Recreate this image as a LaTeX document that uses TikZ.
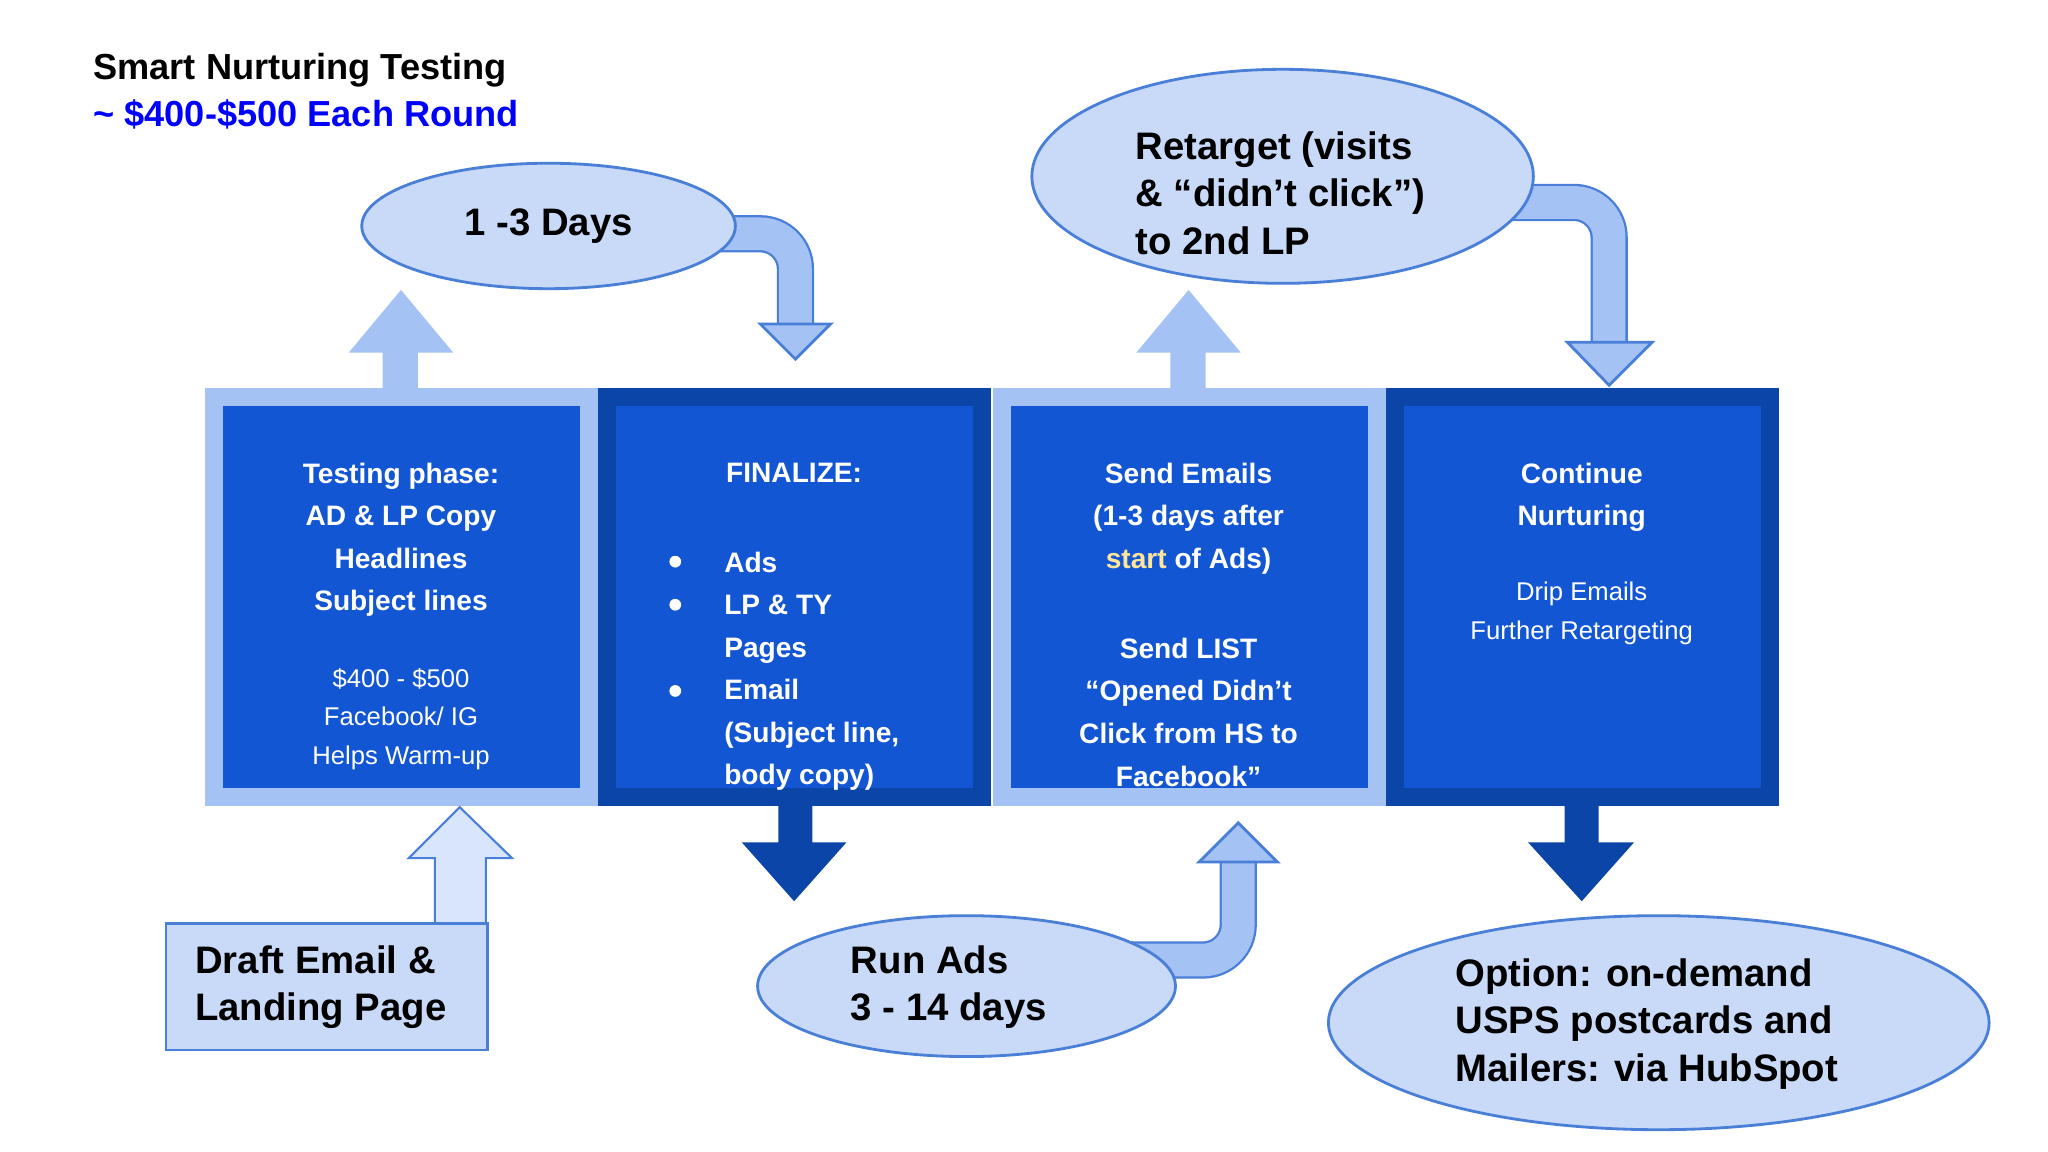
\documentclass[tikz,border=0pt]{standalone}
\usepackage{fontspec}
\setmainfont{Liberation Sans}
\usetikzlibrary{positioning,shapes.geometric}
\definecolor{lightfr}{HTML}{A4C2F4}
\definecolor{darkfr}{HTML}{0B45A8}
\definecolor{inner}{HTML}{1256D4}
\definecolor{pale}{HTML}{C9DAF8}
\definecolor{edge}{HTML}{4A7FD8}
\definecolor{hilite}{HTML}{FFE599}
\tikzset{
  x=0.013061cm, y=-0.013061cm,
  bold/.style={text=white, align=center, font=\fontsize{8.0}{12.1}\selectfont\bfseries, anchor=north},
  plain/.style={text=white, align=center, font=\fontsize{7.3}{11.0}\selectfont, anchor=north},
  bubble/.style={ellipse, draw=edge, fill=pale, line width=0.8pt, inner sep=0pt},
  btext/.style={align=left, font=\fontsize{10.9}{13.4}\selectfont\bfseries},
  band/.style={line width=9.3pt, draw=lightfr, rounded corners=10pt},
  bandedge/.style={line width=10.6pt, draw=edge, rounded corners=10pt}
}
\newcommand{\phase}[4]{% x, frame colour, name
  \fill[#2] (#1,297) rectangle ++(301,320);
  \fill[inner] (#1+14,311) rectangle ++(273,292);
  \coordinate (#3) at (#1+150,297);
  \coordinate (#4) at (#1+150,617);
}
\begin{document}
\begin{tikzpicture}
\useasboundingbox (0,0) rectangle (1568,882);
\fill[white] (0,0) rectangle (1568,882);

% title
\node[anchor=north west, font=\fontsize{10.3}{13.6}\selectfont\bfseries, align=left] (title) at (62,31)
  {Smart Nurturing Testing\\ \textcolor{blue}{\textasciitilde{} \$400-\$500 Each Round}};

% phase blocks
\phase{157}{lightfr}{p1top}{p1bot}
\phase{458}{darkfr}{p2top}{p2bot}
\phase{760}{lightfr}{p3top}{p3bot}
\phase{1061}{darkfr}{p4top}{p4bot}

% block texts
\node[bold] (t1) at (307,345) {Testing phase:\\AD \& LP Copy\\Headlines\\Subject lines};
\node[plain] (t1b) at (307,502) {\$400 - \$500\\Facebook/ IG\\Helps Warm-up};
\node[bold] (t2) at (608,345) {FINALIZE:};
\node[bold, anchor=north west, align=left] (t2b) at (545,413) {Ads\\LP \& TY\\Pages\\Email\\(Subject line,\\body copy)};
\foreach \yy in {430,463,529} \fill[white] (517,\yy) circle (4.5);
\node[bold] (t3) at (910,345) {Send Emails\\(1-3 days after\\\textcolor{hilite}{start} of Ads)};
\node[bold] (t3b) at (910,479) {Send LIST\\``Opened Didn't\\Click from HS to\\Facebook''};
\node[bold] (t4) at (1211,345) {Continue\\Nurturing};
\node[plain] (t4b) at (1211,436) {Drip Emails\\Further Retargeting};

% straight up / down arrows
\fill[lightfr] (293,297) -- (293,270) -- (267,270) -- (307,222) -- (347,270) -- (320,270) -- (320,297) -- cycle;
\fill[lightfr] (896,297) -- (896,270) -- (870,270) -- (910,222) -- (950,270) -- (923,270) -- (923,297) -- cycle;
\fill[darkfr] (596,617) -- (596,645) -- (568,645) -- (608,690) -- (648,645) -- (622,645) -- (622,617) -- cycle;
\fill[darkfr] (1198,617) -- (1198,645) -- (1170,645) -- (1211,690) -- (1251,645) -- (1224,645) -- (1224,617) -- cycle;

% bent arrows
\coordinate (d1) at (520,179);
\coordinate (d2) at (609,250);
\draw[bandedge] (d1) -| (d2);
\draw[band] (d1) -| (d2);
\draw[edge, fill=lightfr, line width=0.8pt] (582,248) -- (609,275) -- (636,248) -- cycle;

\coordinate (r1) at (1120,155);
\coordinate (r2) at (1232,265);
\draw[bandedge] (r1) -| (r2);
\draw[band] (r1) -| (r2);
\draw[edge, fill=lightfr, line width=0.8pt] (1200,262) -- (1232,295) -- (1265,262) -- cycle;

\coordinate (a1) at (840,735);
\coordinate (a2) at (948,658);
\draw[bandedge] (a1) -| (a2);
\draw[band] (a1) -| (a2);
\draw[edge, fill=lightfr, line width=0.8pt] (918,660) -- (948,630) -- (978,660) -- cycle;

% bubbles
\node[bubble, minimum width=106.3pt, minimum height=35.7pt] (days) at (420,173) {};
\node[btext] at (days) {1 -3 Days};
\node[bubble, minimum width=142.7pt, minimum height=60.9pt] (retarget) at (982,135) {};
\node[btext, anchor=west] at (860,148) {Retarget (visits\\\& ``didn't click'')\\to 2nd LP};
\node[bubble, minimum width=118.9pt, minimum height=40.1pt] (runads) at (740,755) {};
\node[btext, anchor=west] at (642,756) {Run Ads\\3 - 14 days};
\node[bubble, minimum width=188pt, minimum height=60.9pt] (option) at (1270,783) {};
\node[btext, anchor=west] at (1105,784) {Option: on-demand\\USPS postcards and\\Mailers: via HubSpot};

% draft box and arrow
\draw[edge, fill=pale!70!white, line width=0.6pt] (333,710) -- (333,657) -- (313,657) -- (352,618) -- (392,657) -- (372,657) -- (372,710);
\node[draw=edge, fill=pale, line width=0.8pt, minimum width=91.4pt, minimum height=36pt, anchor=north west, inner sep=0pt] (draft) at (126,706) {};
\node[btext, anchor=west] at (140,756) {Draft Email \&\\Landing Page};
\end{tikzpicture}
\end{document}
